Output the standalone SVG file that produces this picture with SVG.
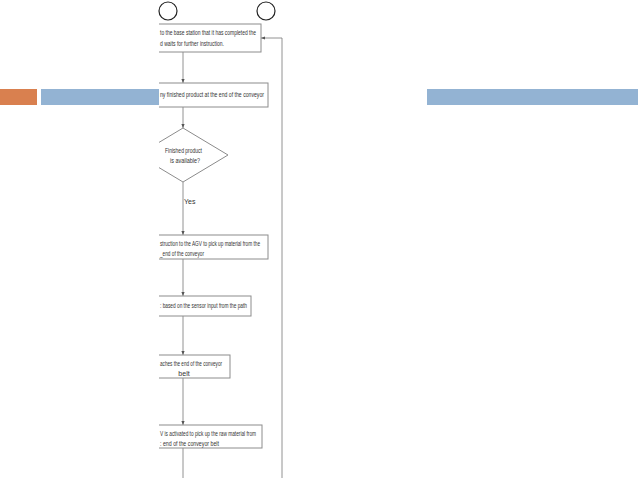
<svg xmlns="http://www.w3.org/2000/svg" width="638" height="478" viewBox="0 0 638 478">
<style>
.b{fill:#fff;stroke:#8c8c8c;stroke-width:1}
.t{font-family:"Liberation Sans",sans-serif;font-size:7px;fill:#333}
.c{stroke:#777;stroke-width:0.8;fill:none}
</style>
<defs>
<marker id="a" markerWidth="6" markerHeight="6" refX="5" refY="3" orient="auto"><path d="M0,1 L5,3 L0,5z" fill="#555"/></marker>
<clipPath id="k"><rect x="159" y="0" width="479" height="478"/></clipPath>
</defs>
<rect width="638" height="478" fill="#fff"/>
<rect x="0" y="89" width="37" height="16" fill="#d9804f"/>
<rect x="41" y="89" width="118" height="16" fill="#93b3d3"/>
<rect x="427" y="89" width="211" height="16" fill="#93b3d3"/>
<g id="c1"><circle cx="168" cy="11" r="9" fill="none" stroke="#222" stroke-width="1.2"/></g>
<g id="c2"><circle cx="266" cy="11" r="9" fill="none" stroke="#222" stroke-width="1.2"/></g>
<g clip-path="url(#k)">
<g id="connectors">
<line class="c" x1="183" y1="52" x2="183" y2="83" marker-end="url(#a)"/>
<line class="c" x1="183" y1="107" x2="183" y2="128" marker-end="url(#a)"/>
<line class="c" x1="183" y1="182" x2="183" y2="235" marker-end="url(#a)"/>
<line class="c" x1="183" y1="259" x2="183" y2="296" marker-end="url(#a)"/>
<line class="c" x1="183" y1="316" x2="183" y2="355" marker-end="url(#a)"/>
<line class="c" x1="183" y1="378" x2="183" y2="425" marker-end="url(#a)"/>
<line class="c" x1="183" y1="448" x2="183" y2="478"/>
<polyline class="c" points="282,478 282,38 261,38" marker-end="url(#a)"/>
<text class="t" x="184" y="204" font-size="7.5">Yes</text>
</g>
<g id="n1"><rect class="b" x="130" y="24" width="131" height="28"/><text class="t" x="160" y="35" textLength="96" lengthAdjust="spacingAndGlyphs">to the base station that it has completed  the</text><text class="t" x="160" y="46" textLength="64" lengthAdjust="spacingAndGlyphs">d waits for further instruction.</text></g>
<g id="n2"><rect class="b" x="130" y="83" width="138" height="24"/><text class="t" x="160" y="97" textLength="104" lengthAdjust="spacingAndGlyphs">ny finished product at the end of the conveyor</text></g>
<g id="n3"><polygon class="b" points="183,128 228,155 183,182 138,155"/><text class="t" x="165" y="153" textLength="37" lengthAdjust="spacingAndGlyphs">Finished product</text><text class="t" x="170" y="163" textLength="30" lengthAdjust="spacingAndGlyphs">is available?</text></g>
<g id="n4"><rect class="b" x="130" y="235" width="138" height="24"/><text class="t" x="160" y="246" textLength="100" lengthAdjust="spacingAndGlyphs">struction to the AGV to pick up material from the</text><text class="t" x="160" y="256" textLength="44" lengthAdjust="spacingAndGlyphs">_end of the conveyor</text></g>
<g id="n5"><rect class="b" x="130" y="296" width="121" height="20"/><text class="t" x="160" y="308" textLength="87" lengthAdjust="spacingAndGlyphs">: based on the sensor input from the path</text></g>
<g id="n6"><rect class="b" x="130" y="355" width="100" height="23"/><text class="t" x="160" y="366" textLength="62" lengthAdjust="spacingAndGlyphs">aches the end of the conveyor</text><text class="t" x="184" y="376" text-anchor="middle">belt</text></g>
<g id="n7"><rect class="b" x="130" y="425" width="132" height="23"/><text class="t" x="160" y="436" textLength="96" lengthAdjust="spacingAndGlyphs">V is activated to pick up the raw material from</text><text class="t" x="160" y="446" textLength="59" lengthAdjust="spacingAndGlyphs">: end of the conveyor belt</text></g>
</g>
</svg>
